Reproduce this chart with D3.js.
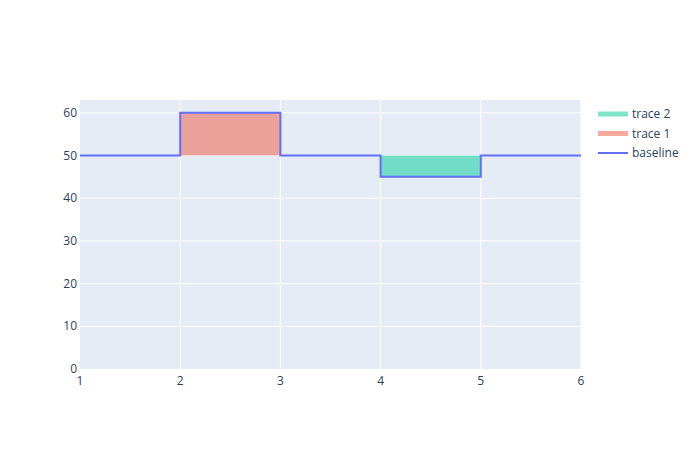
<!DOCTYPE html>
<html><head><meta charset="utf-8">
<script src="https://cdn.jsdelivr.net/npm/d3@7"></script>
<style>body{margin:0;background:#fff}text{font-family:"Open Sans",sans-serif}</style>
</head><body>
<svg id="chart" width="700" height="450"></svg>
<script>
// step line and the two filled bands
const baseX = [1, 2, 2, 3, 3, 4, 4, 5, 5, 6];
const baseY = [50, 50, 60, 60, 50, 50, 45, 45, 50, 50];
const trace1 = {x0: 2, x1: 3, from: 50, to: 60};
const trace2 = {x0: 4, x1: 5, from: 50, to: 45};
const xTicks = [1, 2, 3, 4, 5, 6];
const yTicks = [0, 10, 20, 30, 40, 50, 60];
const legendNames = ["trace 2", "trace 1", "baseline"];
const legendColors = ["rgba(0,204,150,0.5)", "rgba(239,85,59,0.5)", "#636efa"];

const svg = d3.select("#chart");
const m = {l: 80, r: 581, t: 100, b: 369};
const x = d3.scaleLinear().domain([1, 6]).range([m.l, m.r]);
const y = d3.scaleLinear().domain([0, 63]).range([m.b, m.t]);

svg.append("rect").attr("x", m.l).attr("y", m.t)
  .attr("width", m.r - m.l).attr("height", m.b - m.t).attr("fill", "#e5ecf6");

svg.selectAll(".gx").data(xTicks.slice(1)).join("line")
  .attr("x1", d => x(d)).attr("x2", d => x(d)).attr("y1", m.t).attr("y2", m.b)
  .attr("stroke", "#fff").attr("stroke-width", 1);
svg.selectAll(".gy").data(yTicks.slice(1)).join("line")
  .attr("y1", d => y(d)).attr("y2", d => y(d)).attr("x1", m.l).attr("x2", m.r)
  .attr("stroke", "#fff").attr("stroke-width", 1);

[[trace1, legendColors[1]], [trace2, legendColors[0]]].forEach(([t, c]) => {
  svg.append("rect").attr("x", x(t.x0)).attr("width", x(t.x1) - x(t.x0))
    .attr("y", y(Math.max(t.from, t.to)))
    .attr("height", Math.abs(y(t.from) - y(t.to))).attr("fill", c);
});

const line = d3.line().x(d => x(d[0])).y(d => y(d[1]));
svg.append("path").datum(baseX.map((v, i) => [v, baseY[i]]))
  .attr("d", line).attr("fill", "none").attr("stroke", "#636efa").attr("stroke-width", 2);

svg.selectAll(".xt").data(xTicks).join("text")
  .attr("x", d => x(d)).attr("y", m.b + 16).attr("text-anchor", "middle")
  .attr("font-size", 12).attr("fill", "#2a3f5f").text(d => d);
svg.selectAll(".yt").data(yTicks).join("text")
  .attr("x", m.l - 3).attr("y", d => y(d) + 4).attr("text-anchor", "end")
  .attr("font-size", 12).attr("fill", "#2a3f5f").text(d => d);

const lg = svg.selectAll(".lg").data(legendNames).join("g")
  .attr("transform", (d, i) => `translate(598,${114 + i * 19.5})`);
lg.append("line").attr("x1", 0).attr("x2", 30).attr("stroke", (d, i) => legendColors[i])
  .attr("stroke-width", (d, i) => i < 2 ? 5 : 2);
lg.append("text").attr("x", 34).attr("y", 4).attr("font-size", 12)
  .attr("fill", "#2a3f5f").text(d => d);
</script>
</body></html>
